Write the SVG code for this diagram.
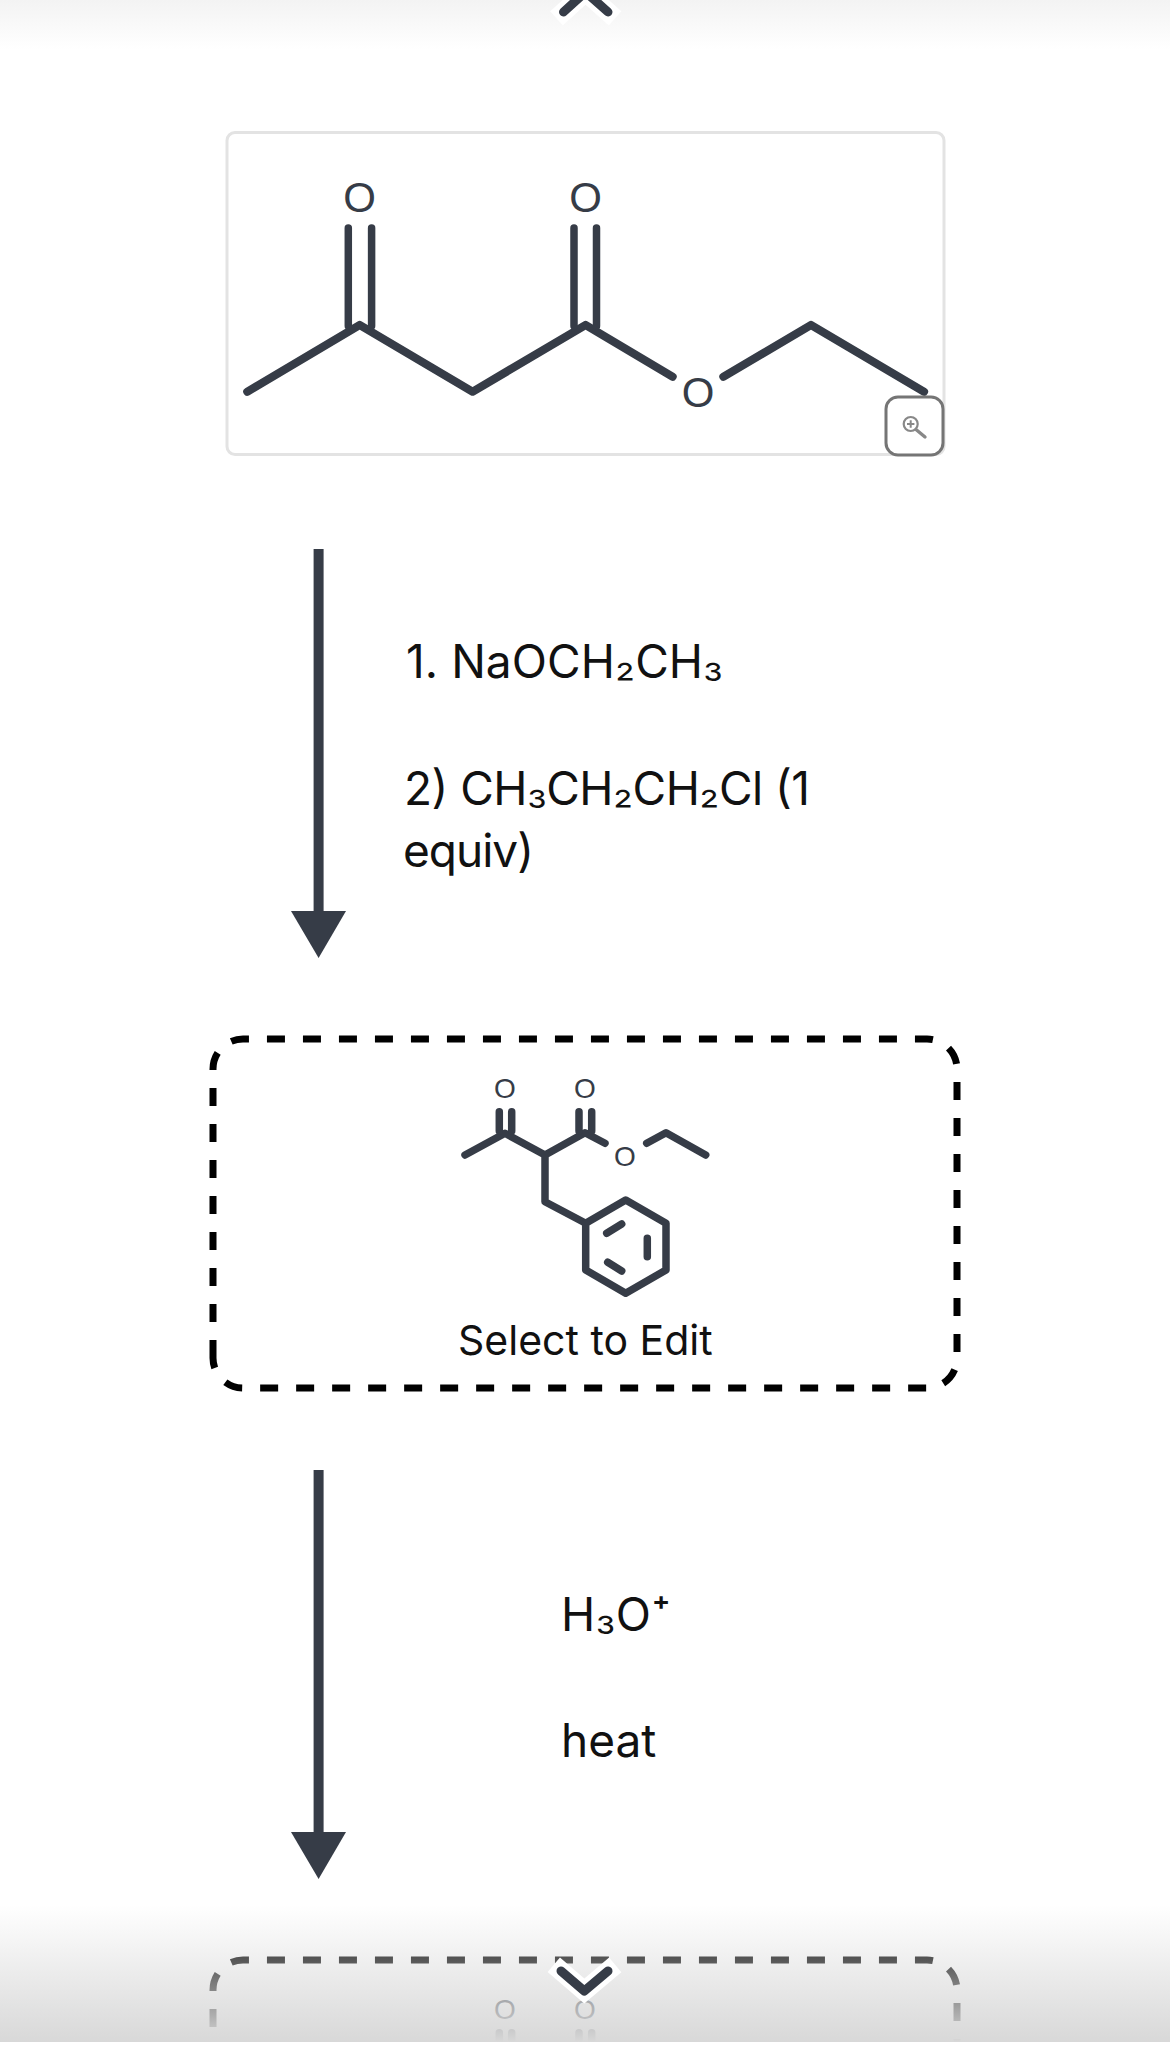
<svg xmlns="http://www.w3.org/2000/svg" width="1170" height="2064" viewBox="0 0 1170 2064">
<style>
.b{fill:none;stroke:#363c47;stroke-width:7.5;stroke-linecap:round;stroke-linejoin:round}
.b1{stroke-width:8.2}
.a{font-family:"Liberation Sans",Arial,sans-serif;fill:#363c47;text-anchor:middle}
.t{font-family:Inter,"Liberation Sans",sans-serif;fill:#111;font-size:46px}
.s{font-weight:300;baseline-shift:4px}
.d{fill:none;stroke:#000;stroke-width:7;stroke-dasharray:18 18}
.c{fill:none;stroke-linecap:round;stroke-linejoin:round}
.h{fill:none;stroke:#fff;stroke-width:19;stroke-linecap:square;stroke-linejoin:miter}
</style>
<defs>
<linearGradient id="gt" x1="0" y1="0" x2="0" y2="1"><stop offset="0" stop-color="#f3f3f3"/><stop offset="1" stop-color="#f3f3f3" stop-opacity="0"/></linearGradient>
<linearGradient id="gb" x1="0" y1="0" x2="0" y2="1"><stop offset="0" stop-color="#d8d8d8" stop-opacity="0"/><stop offset="1" stop-color="#d8d8d8"/></linearGradient>
<clipPath id="cl"><rect x="0" y="1900" width="1170" height="142"/></clipPath>
<path id="frame" class="d" d="M213 1358V1069A30 30 0 0 1 243 1039H927A30 30 0 0 1 957 1069V1358A30 30 0 0 1 927 1388H243A30 30 0 0 1 213 1358"/>
<g id="mol2">
<path class="b" d="M465 1155L505 1133.3L545 1155L585 1132.7L605 1143.3M646.7 1143.3L666 1132.7L705.7 1155M545 1155V1201.7L585.7 1223.3"/>
<path class="b" d="M499.3 1111.7V1131M511.7 1111.7V1131M579 1111.7V1131M591.7 1111.7V1131"/>
<path class="b" d="M585.7 1223.3L625.7 1200L666 1223.3V1270L625.7 1293.3L585.7 1270Z"/>
<path class="b" d="M606.7 1233.3L621.7 1224M647.3 1238.3V1256.7M607.7 1262.3L621.7 1271"/>
<text class="a" x="505" y="1097.5" font-size="28">O</text>
<text class="a" x="585" y="1097.5" font-size="28">O</text>
<text class="a" x="625" y="1166" font-size="28">O</text>
</g>
</defs>
<rect width="1170" height="2064" fill="#fff"/>
<g id="start-material">
<rect x="227" y="132.5" width="717" height="322" rx="8" fill="#fff" stroke="#e3e3e3" stroke-width="3"/>
<path class="b b1" d="M247.3 391.7L359.7 325L472.6 391.7L585.6 325L672.6 376.7M723.4 376.7L811 325L924 391.7"/>
<path class="b" d="M348.3 228V326M371.6 228V326M574 228V326M596.5 228V326"/>
<text class="a" x="359.7" y="211.5" font-size="42">O</text>
<text class="a" x="585.6" y="211.5" font-size="42">O</text>
<text class="a" x="698" y="406.5" font-size="42">O</text>
</g>
<g id="zoom-button">
<rect x="886" y="397" width="57" height="58" rx="12" fill="#fff" stroke="#757575" stroke-width="3"/>
<circle cx="910.7" cy="424" r="7" fill="none" stroke="#888" stroke-width="2.2"/>
<path d="M907 424H914.4M910.7 420.3V427.7" stroke="#888" stroke-width="2" fill="none"/>
<path d="M916 429.5L925 437" stroke="#888" stroke-width="3.4" stroke-linecap="round" fill="none"/>
</g>
<g id="connectors">
<path d="M318.6 549V915" stroke="#363c47" stroke-width="10" fill="none"/>
<polygon points="291,911 346,911 318.6,958" fill="#363c47"/>
<path d="M318.6 1470V1836" stroke="#363c47" stroke-width="10" fill="none"/>
<polygon points="291,1832 346,1832 318.6,1879" fill="#363c47"/>
</g>
<g id="reagents-1">
<text class="t" x="406" y="678" textLength="317">1. NaOCH<tspan class="s">₂</tspan>CH<tspan class="s">₃</tspan></text>
<text class="t" x="404" y="805" textLength="406">2) CH<tspan class="s">₃</tspan>CH<tspan class="s">₂</tspan>CH<tspan class="s">₂</tspan>Cl (1</text>
<text class="t" x="403" y="867" textLength="131">equiv)</text>
</g>
<g id="intermediate">
<use href="#frame"/>
<use href="#mol2"/>
<text class="t" x="458" y="1355" style="font-size:41px">Select to Edit</text>
</g>
<g id="reagents-2">
<text class="t" x="561" y="1631" textLength="110">H<tspan class="s">₃</tspan>O⁺</text>
<text class="t" x="561" y="1757">heat</text>
</g>
<g id="product" clip-path="url(#cl)">
<use href="#frame" y="921"/>
<use href="#mol2" y="921"/>
</g>
<rect x="0" y="0" width="1170" height="50" fill="url(#gt)"/>
<rect x="0" y="1905" width="1170" height="137" fill="url(#gb)"/>
<g id="chevron-up">
<path class="h" d="M563.5 12L585.5 -8L608 12"/>
<path class="c" d="M563.5 12L585.5 -8L608 12" stroke="#363c47" stroke-width="9"/>
</g>
<g id="chevron-down">
<path class="h" d="M561 1971L584.3 1991L608 1971"/>
<path class="c" d="M561 1971L584.3 1991L608 1971" stroke="#363c47" stroke-width="9"/>
</g>
</svg>
